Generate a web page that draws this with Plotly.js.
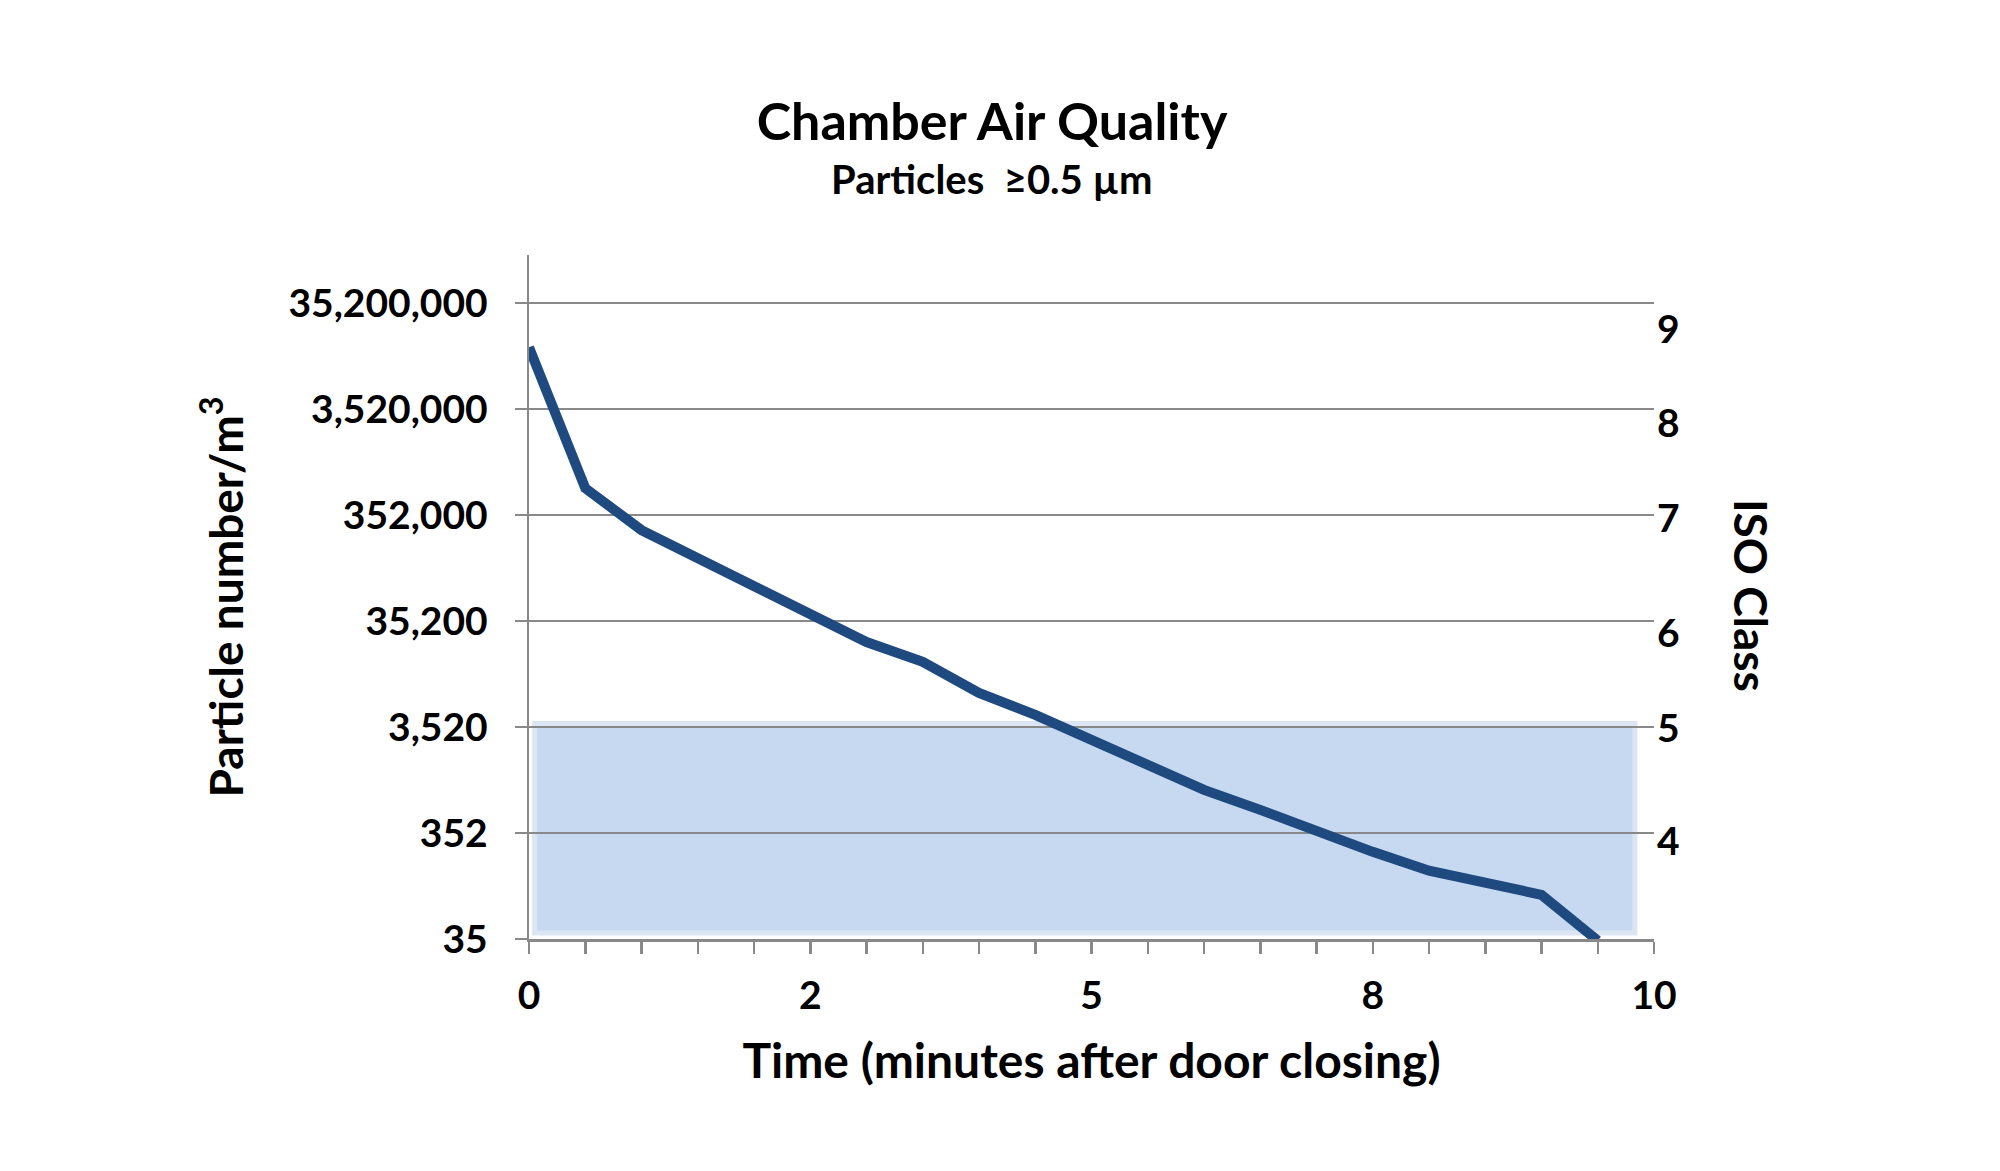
<!DOCTYPE html>
<html>
<head>
<meta charset="utf-8">
<script src="https://cdn.plot.ly/plotly-3.0.1.min.js"></script>
<style>
  html, body { margin: 0; padding: 0; background: #ffffff; }
  #chart { width: 2000px; height: 1171px; }
</style>
</head>
<body>
<div id="chart"></div>
<script>
// minutes after door closing
var timeMin = [0, 0.5, 1, 1.5, 2, 2.5, 3, 3.5, 4, 4.5, 5, 5.5, 6, 6.5, 7, 7.5, 8, 8.5, 9, 9.5];
// particles >= 0.5 um per m3
var particles = [13460000, 631000, 253600, 138100, 73600, 40100, 22300, 14500, 7380, 4580,
                 2660, 1610, 899, 582, 361, 234, 155, 122, 92, 34];

// ISO 14644-1 class limits (>= 0.5 um)
var isoLimits = [35200000, 3520000, 352000, 35200, 3520, 352, 35.2];
var isoLimitText = ["35,200,000", "3,520,000", "352,000", "35,200", "3,520", "352", "35"];
var isoClasses = ["9", "8", "7", "6", "5", "4"];

// labelled x ticks (unlabelled ones every half minute come from minor ticks)
var xTickVals = [0, 2.5, 5, 7.5, 10];
var xTickText = ["0", "2", "5", "8", "10"];

// shaded target zone (ISO 5 and cleaner)
var zoneX = [0.05, 9.83];
var zoneY = [40, 3800];

var FONT = "Lato, 'Open Sans', sans-serif";
var GRID = "#898989";

var isoNudge = [-25, -13, -2, -11, 0, -7];
var isoAnn = isoClasses.map(function (c, i) {
  return {
    text: c, xref: "paper", yref: "y",
    x: 1.0127, y: Math.log10(isoLimits[i]),
    xanchor: "center", yanchor: "middle", yshift: isoNudge[i],
    showarrow: false,
    font: { family: FONT, size: 39, weight: 700, color: "#000" }
  };
});

var layout = {
  width: 2000,
  height: 1171,
  paper_bgcolor: "#ffffff",
  plot_bgcolor: "#ffffff",
  margin: { l: 529, r: 346, t: 255, b: 232 },
  showlegend: false,
  title: {
    text: "Chamber Air Quality",
    font: { family: FONT, size: 52, weight: 700, color: "#000" },
    xref: "container", x: 0.496, xanchor: "center",
    yref: "container", y: 1 - 122 / 1171, yanchor: "middle"
  },
  xaxis: {
    range: [0, 10],
    tickmode: "array",
    tickvals: xTickVals,
    ticktext: xTickText,
    ticks: "outside",
    ticklen: 12,
    tickwidth: 2.5,
    tickcolor: GRID,
    minor: {
      ticks: "outside",
      tick0: 0,
      dtick: 0.5,
      ticklen: 12,
      tickwidth: 2.5,
      tickcolor: GRID,
      showgrid: false
    },
    ticklabelstandoff: 9,
    tickfont: { family: FONT, size: 39, weight: 700, color: "#000" },
    showgrid: false,
    zeroline: false,
    showline: true,
    linecolor: GRID,
    linewidth: 2.5,
    title: {
      text: "Time (minutes after door closing)",
      font: { family: FONT, size: 48, weight: 700, color: "#000" },
      standoff: 28
    }
  },
  yaxis: {
    type: "log",
    range: [Math.log10(35.2), 8],
    tickmode: "array",
    tickvals: isoLimits,
    ticktext: isoLimitText,
    ticks: "outside",
    ticklen: 12,
    tickwidth: 2.5,
    tickcolor: GRID,
    ticklabelstandoff: 19,
    tickfont: { family: FONT, size: 39, weight: 700, color: "#000" },
    showgrid: true,
    gridcolor: GRID,
    gridwidth: 2.5,
    zeroline: false,
    showline: true,
    linecolor: GRID,
    linewidth: 2.5,
    title: {
      text: "Particle number/m<sup>3</sup>",
      font: { family: FONT, size: 46, weight: 700, color: "#000" },
      standoff: 31
    }
  },
  shapes: [{
    type: "rect", xref: "x", yref: "y", layer: "below",
    x0: zoneX[0], x1: zoneX[1],
    y0: zoneY[0], y1: zoneY[1],
    fillcolor: "#c6d9f1",
    line: { color: "#dce6f3", width: 5 }
  }],
  annotations: [{
    text: "Particles&nbsp; ≥0.5 µm",
    xref: "paper", yref: "paper",
    x: 0.4115, y: (939.3 - 179) / 684.7,
    xanchor: "center", yanchor: "middle", showarrow: false,
    font: { family: FONT, size: 40, weight: 700, color: "#000" }
  }, {
    text: "ISO Class",
    xref: "paper", yref: "paper",
    x: 1.0872, y: 0.5029, textangle: 90,
    xanchor: "center", yanchor: "middle", showarrow: false,
    font: { family: FONT, size: 46, weight: 700, color: "#000" }
  }].concat(isoAnn)
};

Plotly.newPlot("chart", [{
  x: timeMin,
  y: particles,
  type: "scatter",
  mode: "lines",
  line: { color: "#1f4a7f", width: 10 },
  hoverinfo: "x+y"
}], layout, { staticPlot: true });
</script>
</body>
</html>
